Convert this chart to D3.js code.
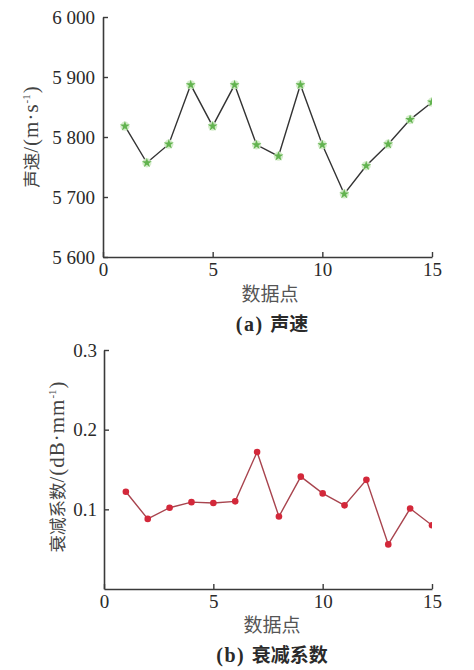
<!DOCTYPE html>
<html><head><meta charset="utf-8">
<script src="https://cdn.jsdelivr.net/npm/d3@7"></script>
<style>
body{margin:0;background:#fff;}
svg{display:block;}
</style></head>
<body>
<svg id="c" width="474" height="670"></svg>
<script>
const points = [1,2,3,4,5,6,7,8,9,10,11,12,13,14,15];
const soundSpeed = [5818,5757,5788,5887,5818,5887,5787,5768,5887,5787,5705,5752,5788,5829,5858];
const attenuation = [0.122,0.088,0.102,0.109,0.108,0.110,0.172,0.091,0.141,0.120,0.105,0.137,0.056,0.101,0.080];
const xTicks = [0,5,10,15];
const speedTicks = [5600,5700,5800,5900,6000];
const attTicks = [0.1,0.2,0.3];

const svg = d3.select("#c");
const numFont = "'Liberation Serif','DejaVu Serif',serif";
const cjkFont = "'Noto Sans CJK SC','Liberation Serif',serif";
const axisColor = "#3a3a3a";

function panel(cfg){
  const g = svg.append("g");
  const x = d3.scaleLinear().domain([0,15]).range([cfg.left, cfg.right]);
  const y = d3.scaleLinear().domain(cfg.yDomain).range([cfg.bottom, cfg.top]);

  const clipId = "clip"+cfg.id;
  svg.append("defs").append("clipPath").attr("id", clipId)
    .append("rect").attr("x", cfg.left).attr("y", cfg.top-10)
    .attr("width", cfg.right-cfg.left).attr("height", cfg.bottom-cfg.top+20);

  const xa = g.append("g").attr("transform",`translate(0,${cfg.bottom})`)
    .call(d3.axisBottom(x).tickValues(xTicks).tickSize(-5).tickPadding(6).tickSizeOuter(0).tickFormat(d3.format("d")));
  const ya = g.append("g").attr("transform",`translate(${cfg.left},0)`)
    .call(d3.axisLeft(y).tickValues(cfg.yTicks).tickSize(-5).tickPadding(cfg.ypad).tickSizeOuter(0).tickFormat(cfg.fmt));
  [xa,ya].forEach(a=>{
    a.select(".domain").attr("stroke",axisColor).attr("stroke-width",1.6);
    a.selectAll(".tick line").attr("stroke",axisColor).attr("stroke-width",1.4);
    a.selectAll(".tick text").attr("fill","#2a2a2a").style("font-family",numFont).style("font-size","19px");
  });
  ya.selectAll(".tick text").attr("dy","0.33em");

  const line = d3.line().x((d,i)=>x(points[i])).y(d=>y(d));
  const pg = g.append("g").attr("clip-path",`url(#${clipId})`);
  pg.append("path").datum(cfg.values).attr("d",line).attr("fill","none")
    .attr("stroke",cfg.lineColor).attr("stroke-width",1.4);
  cfg.marker(pg, cfg.values.map((v,i)=>[x(points[i]), y(v)]));

  // y label
  const yl = g.append("text")
    .attr("transform",`translate(${cfg.ylx},${cfg.yly}) rotate(-90)`)
    .attr("text-anchor","middle").attr("fill","#444").attr("dy","0.35em");
  yl.append("tspan").style("font-family",cjkFont).style("font-size","17.5px").text(cfg.ylCjk);
  yl.append("tspan").style("font-family",numFont).style("font-size","21px").style("letter-spacing","1px").text(cfg.ylUnit);
  yl.append("tspan").style("font-family",numFont).style("font-size","11px").attr("dy","-8").text("-1");
  yl.append("tspan").style("font-family",numFont).style("font-size","21px").attr("dy","8").attr("dx","1").text(")");

  g.append("text").attr("x",cfg.xlx).attr("y",cfg.xly).attr("text-anchor","middle")
    .attr("fill","#555").style("font-family",cjkFont).style("font-size","19px").text("数据点");

  const cap = g.append("text").attr("x",cfg.capx).attr("y",cfg.capy).attr("text-anchor","middle")
    .attr("fill","#2a2a2a").style("font-weight","bold");
  cap.append("tspan").style("font-family",numFont).style("font-size","20px").style("letter-spacing","1.5px").text(cfg.capLetter+" ");
  cap.append("tspan").style("font-family",cjkFont).style("font-size","19px").text(cfg.capText);
}

const fmtSpace = d => d3.format(",")(d).replace(",", " ");

panel({
  id:"a", left:103, right:432, top:17, bottom:257, ypad:8,
  yDomain:[5600,6000], yTicks:speedTicks, fmt:fmtSpace,
  values:soundSpeed, lineColor:"#333",
  marker:(pg,pts)=>{
    const star = d3.symbol().type(d3.symbolStar).size(30);
    pg.selectAll(".halo").data(pts).join("circle").attr("cx",d=>d[0]).attr("cy",d=>d[1])
      .attr("r",4.6).attr("fill","#cfeac4").attr("opacity",0.9);
    pg.selectAll(".star").data(pts).join("path").attr("d",star)
      .attr("transform",d=>`translate(${d[0]},${d[1]})`).attr("fill","#62b34f");
  },
  ylx:32, yly:137, ylCjk:"声速", ylUnit:"/(m·s",
  xlx:270, xly:301, capx:272, capy:331, capLetter:"(a)", capText:"声速"
});

panel({
  id:"b", left:104, right:432, top:350, bottom:589, ypad:7,
  yDomain:[0,0.3], yTicks:attTicks, fmt:d3.format(".1f"),
  values:attenuation, lineColor:"#a8444e",
  marker:(pg,pts)=>{
    pg.selectAll(".dot").data(pts).join("circle").attr("cx",d=>d[0]).attr("cy",d=>d[1])
      .attr("r",3.3).attr("fill","#d3283a");
  },
  ylx:58, yly:467, ylCjk:"衰减系数", ylUnit:"/(dB·mm",
  xlx:272, xly:632, capx:272, capy:662, capLetter:"(b)", capText:"衰减系数"
});
</script>
</body></html>
